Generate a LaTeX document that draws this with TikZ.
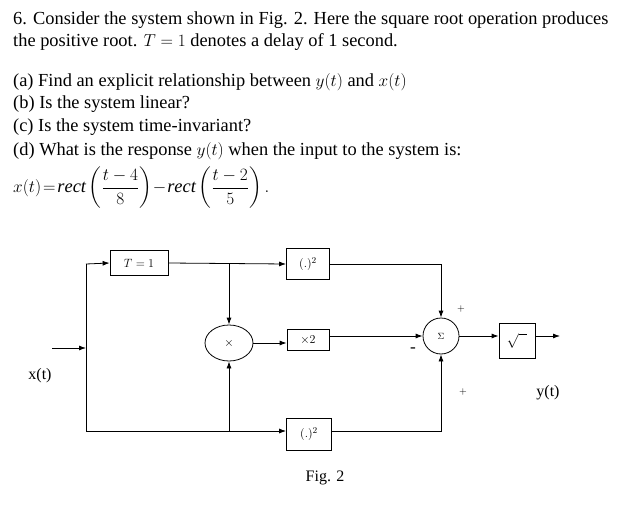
\documentclass[tikz,border=0pt]{standalone}
\usepackage{amsmath}
\usepackage{fontspec}
\setmainfont{Liberation Serif}
\usetikzlibrary{arrows.meta,shapes.geometric}
\begin{document}
\begin{tikzpicture}[x=1pt,y=-1pt,
  txt/.style={anchor=west,inner sep=0pt,font=\fontsize{18.4}{21}\selectfont},
  blk/.style={draw,thick,minimum height=25pt,inner sep=0pt,font=\fontsize{13}{15}\selectfont},
  ar/.style={thick,-{Latex[length=7pt,width=5pt]}},
  ln/.style={thick}]
\useasboundingbox (0,0) rectangle (632,508);
\node[txt] (l1) at (13,20) {6. Consider the system shown in Fig. 2. Here the square root operation produces};
\node[txt] (l2) at (13,42) {the positive root. $T=1$ denotes a delay of 1 second.};
\node[txt] (qa) at (13,82) {(a) Find an explicit relationship between $y(t)$ and $x(t)$};
\node[txt] (qb) at (13,104) {(b) Is the system linear?};
\node[txt] (qc) at (13,127) {(c) Is the system time-invariant?};
\node[txt] (qd) at (13,151) {(d) What is the response $y(t)$ when the input to the system is:};
\node[txt] (fx) at (13,188) {$x(t)\!=\!\mathit{rect}\left(\dfrac{t-4}{8}\right)\!-\!\mathit{rect}\left(\dfrac{t-2}{5}\right).$};
% blocks
\node[blk,minimum width=58pt] (T) at (139,263) {$T=1$};
\node[blk,minimum width=43pt,minimum height=31pt] (sq1) at (308,264) {$(.)^2$};
\node[blk,minimum width=42pt,minimum height=21pt] (x2) at (308,340) {$\times2$};
\node[blk,minimum width=45pt,minimum height=32pt] (sq2) at (309,434) {$(.)^2$};
\node[draw,thick,ellipse,minimum width=48pt,minimum height=36pt,inner sep=0pt,font=\large] (mul) at (229,343) {$\times$};
\node[draw,thick,circle,minimum size=36pt,inner sep=0pt,font=\small] (sum) at (441,336) {$\Sigma$};
\node[blk,minimum width=36pt,minimum height=35pt,font=\Large] (sqrt) at (517,341) {$\sqrt{\phantom{x}}$};
\coordinate (in) at (52,348);
\coordinate (jl) at (86,348);
\coordinate (out) at (560,336);
\draw[ar] (in) -- (jl);
\draw[ln] (86,264) -- (86,431);
\draw[ar] (86,264) -- (T.west);
\draw[ar] (T.east) -- (sq1.west);
\draw[ar] (229,264) -- (mul.north);
\draw[ar] (86,431) -- (sq2.west |- 0,431);
\draw[ar] (229,431) -- (mul.south);
\draw[ar] (mul.east) -- (x2.west |- mul.east);
\draw[ar] (sq1.east) -| (sum.north);
\draw[ar] (x2.east |- sum.west) -- (sum.west);
\draw[ar] (sq2.east |- 0,431) -| (sum.south);
\draw[ar] (sum.east) -- (sqrt.west |- sum.east);
\draw[ar] (sqrt.east |- sum.east) -- (out);
\node[font=\normalsize] (p1) at (461,309) {$+$};
\node[font=\LARGE] (m1) at (413,350) {-};
\node[font=\normalsize] (p2) at (463,392) {$+$};
\node[font=\fontsize{16}{18}\selectfont] (xt) at (40,376) {x(t)};
\node[font=\fontsize{16}{18}\selectfont] (yt) at (548,393) {y(t)};
\node[font=\fontsize{16}{18}\selectfont] (fig) at (325,478) {Fig. 2};
\end{tikzpicture}
\end{document}
